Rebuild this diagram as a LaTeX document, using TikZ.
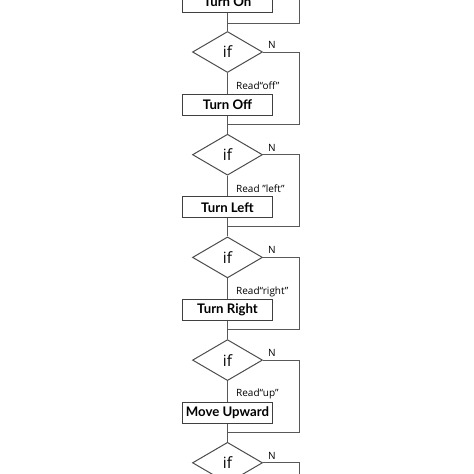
\documentclass[tikz,border=0pt]{standalone}
\usepackage{fontspec}
\setmainfont{Open Sans}
\newfontfamily\boxfont{Lato}
\usetikzlibrary{shapes.geometric}
\begin{document}
\begin{tikzpicture}[x=1pt,y=-1pt,
  box/.style={draw=black!75, line width=1pt, minimum width=90pt, minimum height=21pt, inner sep=0pt, font=\boxfont\bfseries\fontsize{13.2}{14}\selectfont},
  dec/.style={diamond, draw=black!70, line width=1pt, minimum width=70pt, minimum height=41pt, inner sep=0pt, font=\fontsize{15.5}{15.5}\selectfont},
  ln/.style={draw=black!65, line width=1pt},
  lab/.style={font=\fontsize{10}{10}\selectfont, inner sep=0pt, anchor=west},
  nlab/.style={font=\fontsize{10}{10}\selectfont, inner sep=0pt}]
\useasboundingbox (0,0) rectangle (474,474);
\clip (0,0) rectangle (474,474);
% top stage
\node[box] (b0) at (227.5,1.8) {Turn On};
\coordinate (m0) at (227.5,23);
\coordinate (r0) at (299,23);
\coordinate (t0) at (299,-20);
\draw[ln] (t0) -- (r0) -- (m0);
\draw[ln] (b0.south) -- (m0);
\foreach \k/\rd/\bx in {1/{Read“off”}/{Turn Off},2/{Read "left"}/{Turn Left},3/{Read“right”}/{Turn Right},4/{Read“up”}/{Move Upward}}{
  \pgfmathsetmacro\yc{52+102.7*(\k-1)}
  \pgfmathtruncatemacro\p{\k-1}
  \node[dec] (d\k) at (227.5,\yc) {if};
  \node[nlab] (N\k) at (272,\yc-7) {N};
  \node[lab] (R\k) at (236,\yc+34) {\rd};
  \node[box] (b\k) at (227.5,\yc+52.5) {\bx};
  \coordinate (n\k) at (299,\yc);
  \coordinate (r\k) at (299,\yc+72);
  \coordinate (m\k) at (227.5,\yc+72);
  \draw[ln] (m\p) -- (d\k.north);
  \draw[ln] (d\k.east) -- (n\k) -- (r\k) -- (m\k);
  \draw[ln] (d\k.south) -- (b\k.north);
  \draw[ln] (b\k.south) -- (m\k);
}
% last visible stage
\node[dec] (d5) at (227.5,462.8) {if};
\node[nlab] (N5) at (272,455.8) {N};
\coordinate (n5) at (299,462.8);
\coordinate (e5) at (299,500);
\coordinate (s5) at (227.5,500);
\draw[ln] (m4) -- (d5.north);
\draw[ln] (d5.east) -- (n5) -- (e5);
\draw[ln] (d5.south) -- (s5);
\end{tikzpicture}
\end{document}
